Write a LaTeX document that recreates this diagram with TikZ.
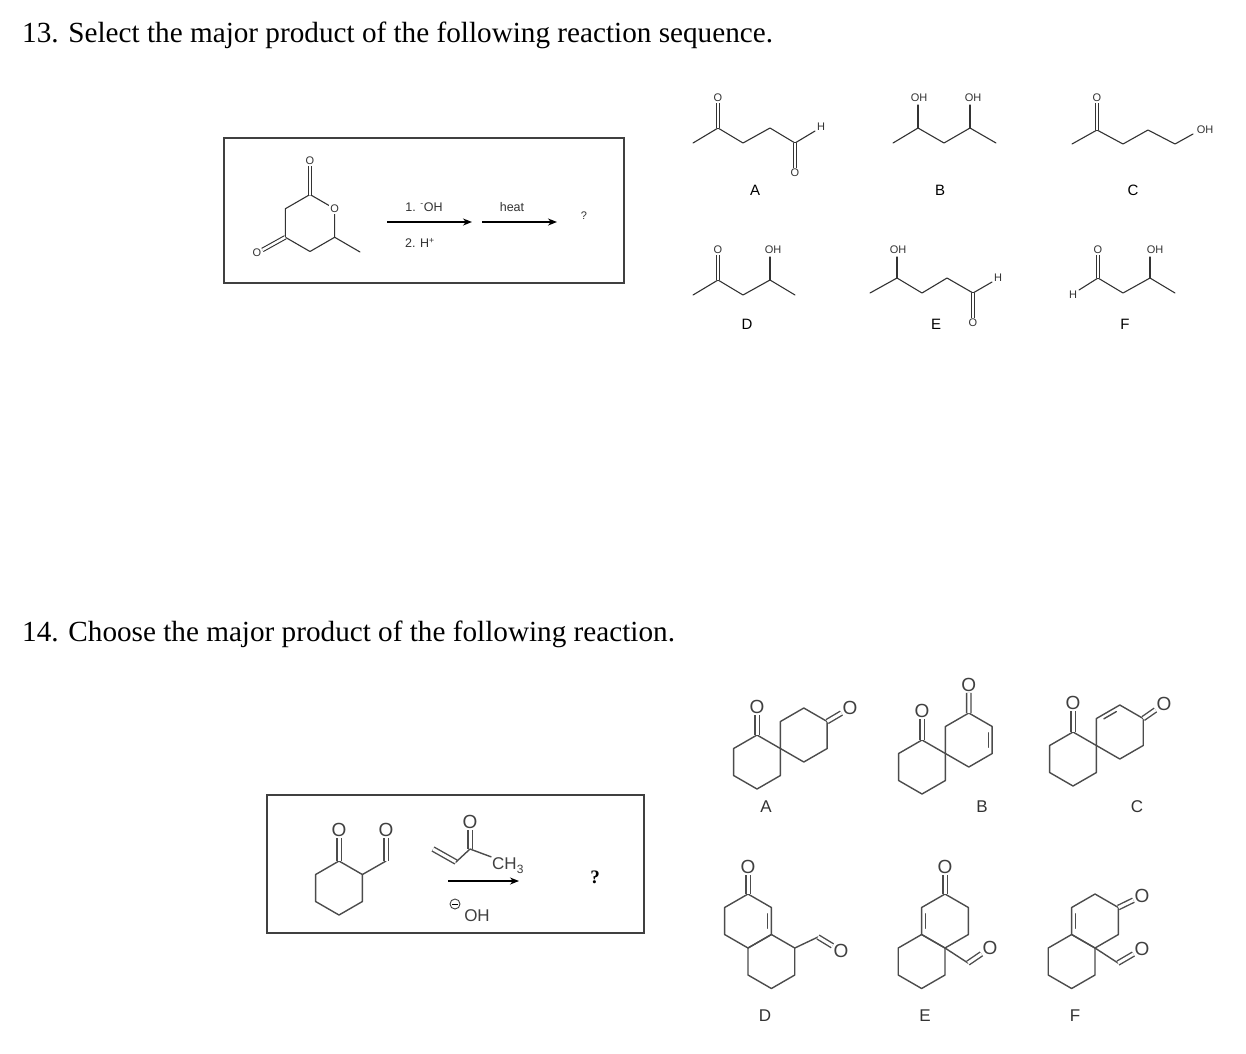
\documentclass[tikz,border=0pt]{standalone}
\usepackage{fontspec}
\setmainfont{Liberation Serif}
\setsansfont{Liberation Sans}
\usetikzlibrary{arrows.meta,calc}
\tikzset{
 bond/.style={line width=1.1pt, line cap=round, line join=round, draw=black!80},
 bondb/.style={line width=1.4pt, line cap=round, line join=round, draw=black!70},
 dbl/.style={bond, double=white, double distance=2.4pt, line cap=butt},
 dblb/.style={bondb, double=white, double distance=3pt, line cap=butt},
 sa/.style={font=\sffamily\fontsize{11}{11}\selectfont, inner sep=1pt, text=black!80},
 la/.style={font=\sffamily\fontsize{19}{19}\selectfont, inner sep=1pt, text=black!75},
 lett/.style={font=\sffamily\fontsize{15}{15}\selectfont, inner sep=0pt},
 lettb/.style={font=\sffamily\fontsize{17}{17}\selectfont, inner sep=0pt, text=black!80},
 title/.style={font=\fontsize{29.2}{32}\selectfont, anchor=west, inner sep=0pt},
 arr/.style={line width=1.6pt, -{Stealth[length=9pt,width=7pt]}},
 boxst/.style={draw=black!75, line width=1.5pt},
}
\newcommand\hexring[5]{% cx cy r name style
 \pgfmathsetmacro\hxa{0.8660254*#3}\pgfmathsetmacro\hya{0.5*#3}
 \coordinate (#4c) at (#1,#2);
 \coordinate (#41) at (#1,#2-#3);
 \coordinate (#42) at (#1+\hxa,#2-\hya);
 \coordinate (#43) at (#1+\hxa,#2+\hya);
 \coordinate (#44) at (#1,#2+#3);
 \coordinate (#45) at (#1-\hxa,#2+\hya);
 \coordinate (#46) at (#1-\hxa,#2-\hya);
 \draw[#5] (#41)--(#42)--(#43)--(#44)--(#45)--(#46)--cycle;}
\newcommand\innerdb[4]{\draw[#4] ($(#1)!.18!(#2)!.17!(#3)$) -- ($(#2)!.18!(#1)!.17!(#3)$);}
\begin{document}
\begin{tikzpicture}[x=1pt,y=-1pt]
\useasboundingbox[fill=white] (0,0) rectangle (1246,1053);
\node[title] (t13) at (22,35) {13. Select the major product of the following reaction sequence.};
\node[title] (t14) at (22,634) {14. Choose the major product of the following reaction.};

% ---------- Q13 box
\draw[boxst] (224,138) rectangle (624,283);
\hexring{310}{223}{28.5}{s}{bond}
\node[sa,fill=white] (sO) at (s2) {O};
\node[sa] (so1) at (310,161) {O};
\draw[dbl] (s1) -- (so1);
\node[sa] (so2) at (257,253) {O};
\draw[dbl] (s5) -- (so2);
\coordinate (sme) at (360,252);
\draw[bond] (s3) -- (sme);
\coordinate (a1s) at (387,222); \coordinate (a1e) at (472,222);
\coordinate (a2s) at (482,222); \coordinate (a2e) at (557,222);
\draw[arr] (a1s) -- (a1e);
\draw[arr] (a2s) -- (a2e);
\node[sa,font=\sffamily\fontsize{12.5}{12}\selectfont] (r1) at (424,207) {1. \textsuperscript{-}OH};
\node[sa,font=\sffamily\fontsize{12.5}{12}\selectfont] (r2) at (420,243) {2. H\textsuperscript{+}};
\node[sa,font=\sffamily\fontsize{12.5}{12}\selectfont] (r3) at (512,207) {heat};
\node[sa] (q1) at (584,216) {?};

% ---------- Q13 answers
% A
\draw[bond] (693,143)--(718,128)--(743,143)--(770,128)--(795,143)--(815,131);
\node[sa] (Ah) at (821,127) {H};
\node[sa] (Ao1) at (718,98) {O}; \draw[dbl] (718,128)--(Ao1);
\node[sa] (Ao2) at (795,173) {O}; \draw[dbl] (795,143)--(Ao2);
\node[lett] (LA) at (755,190) {A};
% B
\draw[bond] (893,143)--(918,128)--(944,143)--(970,128)--(996,143);
\node[sa] (Bo1) at (919,98) {OH}; \draw[bond] (918,128)--(918,105);
\node[sa] (Bo2) at (973,98) {OH}; \draw[bond] (970,128)--(970,105);
\node[lett] (LB) at (940,190) {B};
% C
\draw[bond] (1072,144)--(1097,130)--(1123,144)--(1148,130)--(1175,144)--(1193,134);
\node[sa] (Co1) at (1097,98) {O}; \draw[dbl] (1097,130)--(Co1);
\node[sa] (Co2) at (1205,130) {OH};
\node[lett] (LC) at (1133,190) {C};
% D
\draw[bond] (693,295)--(718,280)--(743,295)--(770,280)--(795,295);
\node[sa] (Do1) at (718,250) {O}; \draw[dbl] (718,280)--(Do1);
\node[sa] (Do2) at (773,250) {OH}; \draw[bond] (770,280)--(770,257);
\node[lett] (LD) at (747,324) {D};
% E
\draw[bond] (870,293)--(897,278)--(922,293)--(947,278)--(973,293)--(992,282);
\node[sa] (Eh) at (998,278) {H};
\node[sa] (Eo1) at (898,250) {OH}; \draw[bond] (897,278)--(897,257);
\node[sa] (Eo2) at (973,323) {O}; \draw[dbl] (973,293)--(Eo2);
\node[lett] (LE) at (936,324) {E};
% F
\node[sa] (Fh) at (1073,295) {H};
\draw[bond] (1079,290)--(1098,278)--(1123,293)--(1150,278)--(1175,293);
\node[sa] (Fo1) at (1098,250) {O}; \draw[dbl] (1098,278)--(Fo1);
\node[sa] (Fo2) at (1155,250) {OH}; \draw[bond] (1150,278)--(1150,257);
\node[lett] (LF) at (1125,324) {F};

% ---------- Q14 box
\draw[boxst] (267,795) rectangle (644,933);
\hexring{339}{888}{27}{p}{bondb}
\node[la] (po1) at (339,830) {O}; \draw[dblb] (p1)--(po1);
\coordinate (pc) at (386,861);
\draw[bondb] (p2)--(pc);
\node[la] (po2) at (386,830) {O}; \draw[dblb] (pc)--(po2);
% MVK
\coordinate (m1) at (433,849); \coordinate (m2) at (456,862); \coordinate (m3) at (470,849);
\draw[dblb] (m1)--(m2); \draw[bondb] (m2)--(m3);
\node[la] (mo) at (470,822) {O}; \draw[dblb] (m3)--(mo);
\node[la,font=\sffamily\fontsize{17}{17}\selectfont,anchor=west] (mch) at (491,866) {CH\raisebox{-4pt}{\fontsize{12}{12}\selectfont 3}};
\draw[bondb] (m3)--(mch.north west);
\coordinate (b1s) at (448,881); \coordinate (b1e) at (519,881);
\draw[arr,line width=1.3pt] (b1s)--(b1e);
\node[la,font=\sffamily\fontsize{17}{17}\selectfont] (oh) at (477,916) {OH};
\node[draw=black!75,circle,inner sep=0pt,minimum size=10pt,line width=0.9pt] (minus) at (455,904) {};
\draw[line width=0.9pt] ($(minus)+(-3,0)$)--($(minus)+(3,0)$);
\node[font=\bfseries\fontsize{19}{19}\selectfont] (q2) at (595,877) {?};

% ---------- Q14 answers
% A
\hexring{757}{762}{27}{a}{bondb}
\hexring{780.4+23.4}{748.5-13.5}{27}{b}{bondb}
\node[la] (ao1) at (757,707) {O}; \draw[dblb] (a1)--(ao1);
\node[la] (ao2) at (850,708) {O}; \draw[dblb] (b2)--(ao2);
\node[lettb] (LA2) at (766,807) {A};
% B
\hexring{922}{767}{27}{c}{bondb}
\hexring{922+23.4+23.4}{767-13.5-13.5}{27}{d}{bondb}
\node[la] (co1) at (922,711) {O}; \draw[dblb] (c1)--(co1);
\node[la] (do1) at (968.8,685) {O}; \draw[dblb] (d1)--(do1);
\innerdb{d2}{d3}{dc}{bondb}
\node[lettb] (LB2) at (982,807) {B};
% C
\hexring{1073}{759}{27}{e}{bondb}
\hexring{1073+46.8}{759-27}{27}{f}{bondb}
\node[la] (eo1) at (1073,703) {O}; \draw[dblb] (e1)--(eo1);
\node[la] (fo1) at (1164,704) {O}; \draw[dblb] (f2)--(fo1);
\innerdb{f6}{f1}{fc}{bondb}
\node[lettb] (LC2) at (1137,807) {C};
% D
\hexring{748}{921}{27}{g}{bondb}
\hexring{771.4}{961.5}{27}{h}{bondb}
\node[la] (go1) at (748,867) {O}; \draw[dblb] (g1)--(go1);
\innerdb{g2}{g3}{gc}{bondb}
\coordinate (hc1) at (818,937);
\draw[bondb] (h2)--(hc1);
\node[la] (ho1) at (841,951) {O}; \draw[dblb] (hc1)--(ho1);
\node[lettb] (LD2) at (765,1016) {D};
% E
\hexring{945}{921}{27}{i}{bondb}
\hexring{921.6}{961.5}{27}{j}{bondb}
\node[la] (io1) at (945,867) {O}; \draw[dblb] (i1)--(io1);
\innerdb{i6}{i5}{ic}{bondb}
\coordinate (ic1) at (968,963);
\draw[bondb] (i4)--(ic1);
\node[la] (jo1) at (990,948) {O}; \draw[dblb] (ic1)--(jo1);
\node[lettb] (LE2) at (925,1016) {E};
% F
\hexring{1095}{921}{27}{k}{bondb}
\hexring{1071.6}{961.5}{27}{l}{bondb}
\node[la] (ko1) at (1142,896) {O}; \draw[dblb] (k2)--(ko1);
\innerdb{k6}{k5}{kc}{bondb}
\coordinate (kc1) at (1118,963);
\draw[bondb] (k4)--(kc1);
\node[la] (lo1) at (1142,949) {O}; \draw[dblb] (kc1)--(lo1);
\node[lettb] (LF2) at (1075,1016) {F};
\end{tikzpicture}
\end{document}
